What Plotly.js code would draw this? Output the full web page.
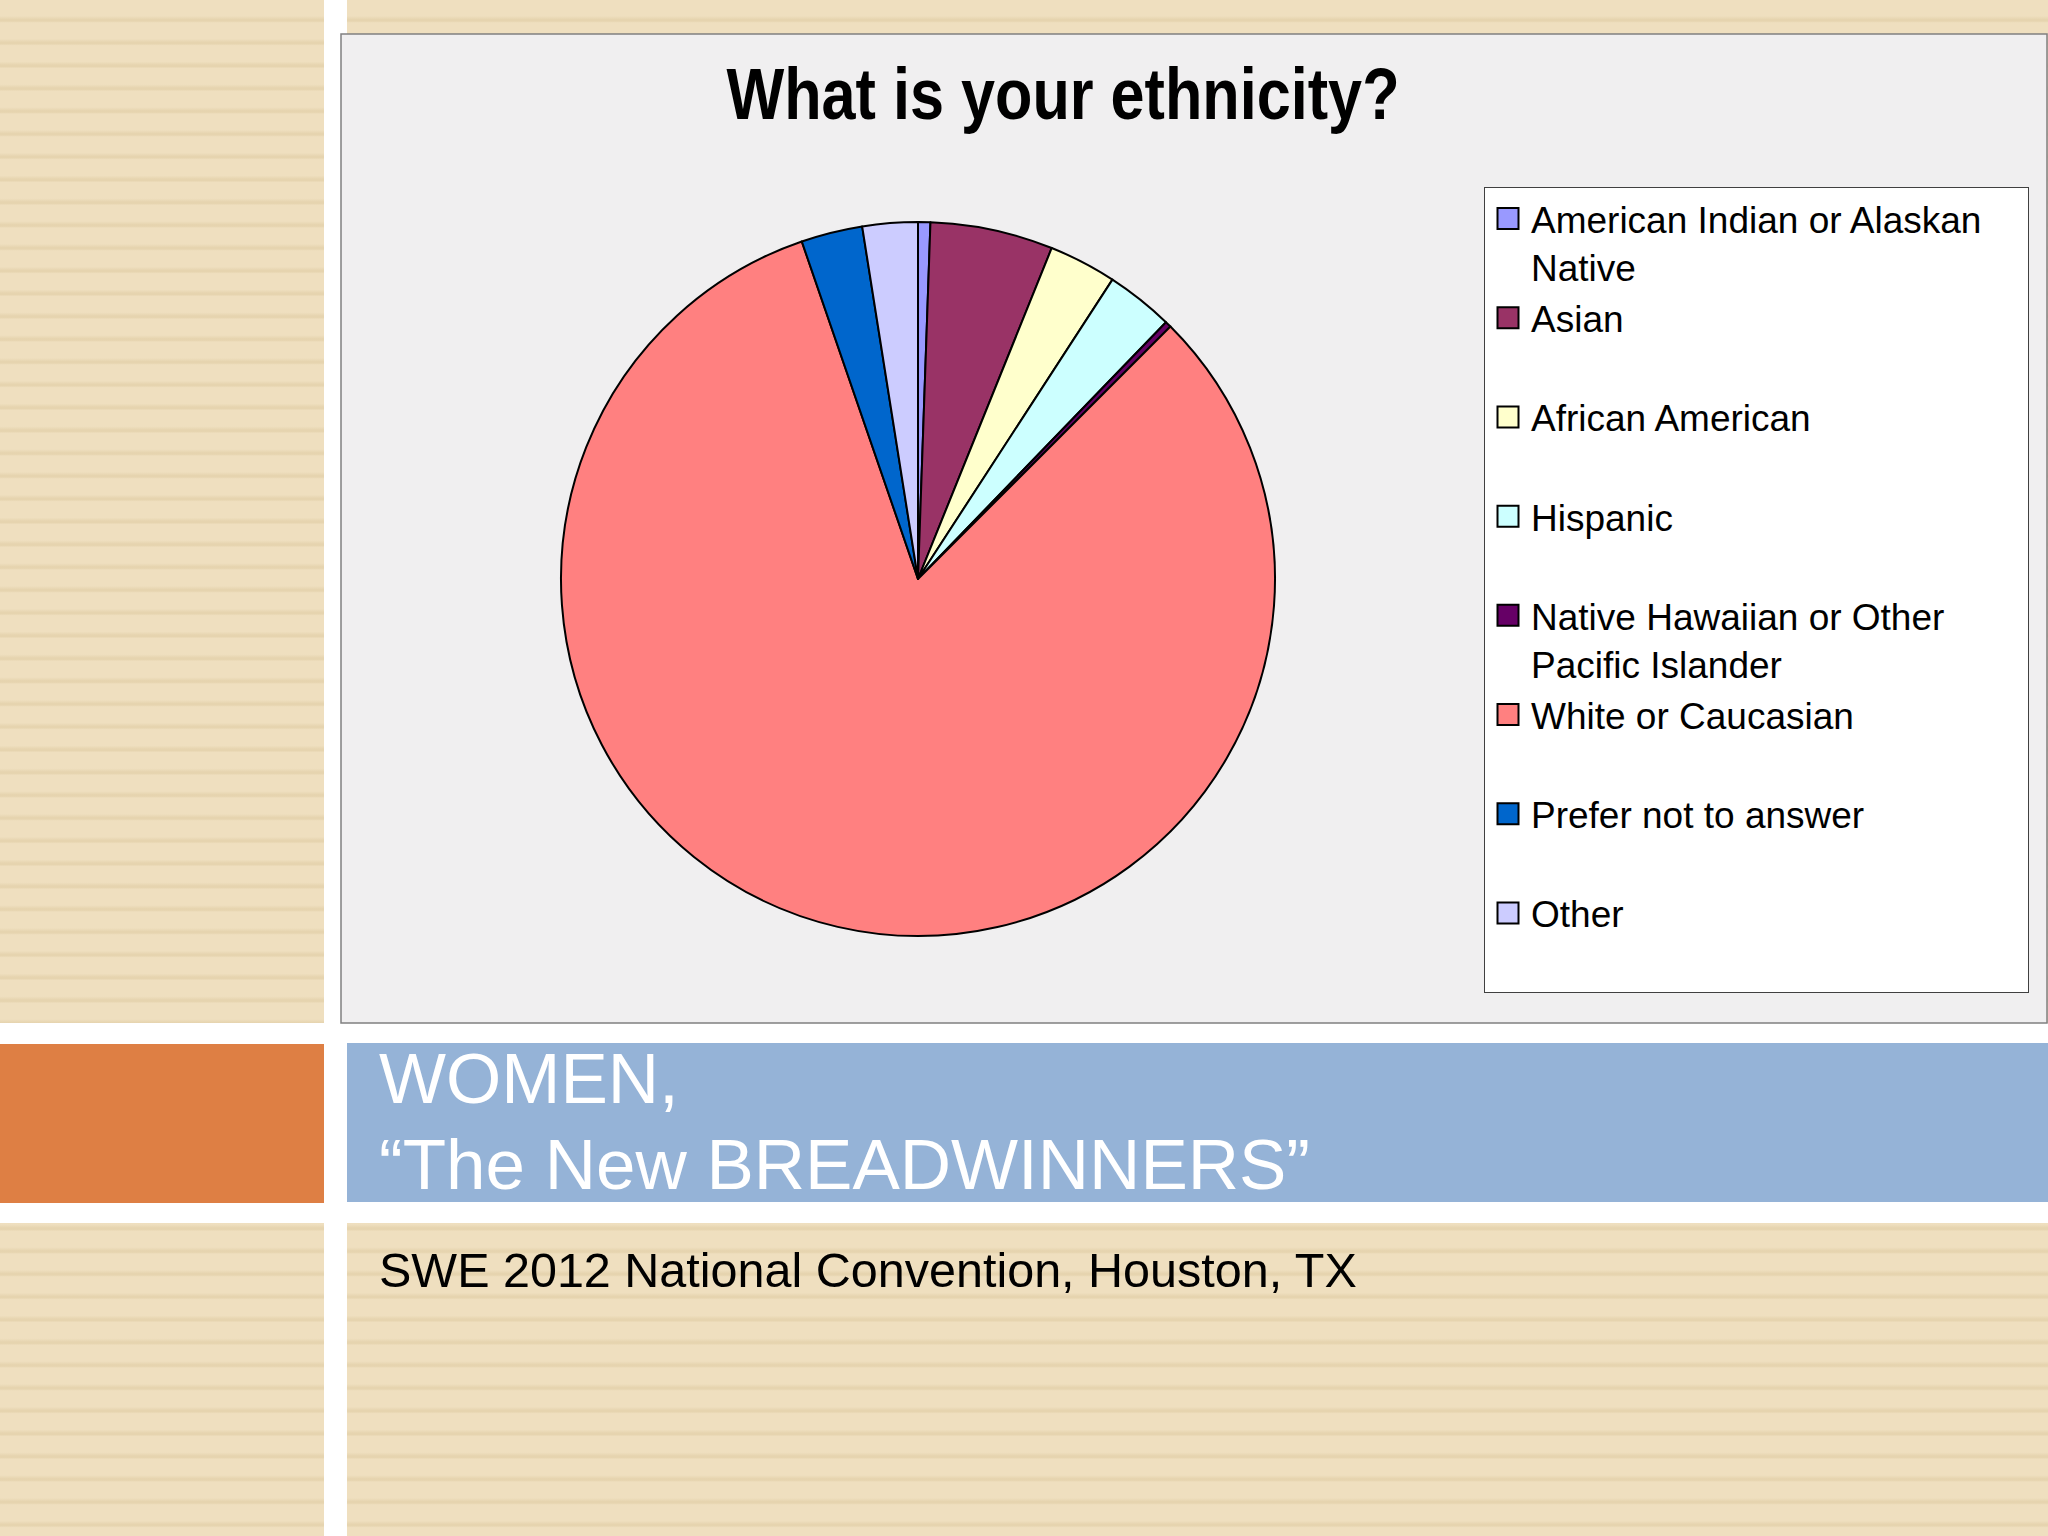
<!DOCTYPE html>
<html>
<head>
<meta charset="utf-8">
<script src="https://cdn.plot.ly/plotly-3.0.1.min.js"></script>
<style>
  html, body { margin: 0; padding: 0; }
  body {
    width: 2048px; height: 1536px; overflow: hidden;
    background-color: #EFDFBF;
    background-image: repeating-linear-gradient(to bottom,
      rgba(0,0,0,0) 0px, rgba(0,0,0,0) 16px,
      #E6D4AF 19.5px, #E6D4AF 21px, rgba(0,0,0,0) 22.8px);
  }
  #chart { width: 2048px; height: 1536px; }
</style>
</head>
<body>
<div id="chart"></div>
<script>
// ---- data ----
const categories = [
  "American Indian or Alaskan Native",
  "Asian",
  "African American",
  "Hispanic",
  "Native Hawaiian or Other Pacific Islander",
  "White or Caucasian",
  "Prefer not to answer",
  "Other"
];
const counts = [2, 20, 11, 11, 1, 296, 10, 9];
const sliceColors = ["#9999FF", "#993366", "#FFFFCC", "#CCFFFF", "#660066", "#FF8080", "#0066CC", "#CCCCFF"];
const chartTitle = "What is your ethnicity?";
const slideTitle1 = "WOMEN,";
const slideTitle2 = "\u201CThe New BREADWINNERS\u201D";
const slideSubtitle = "SWE 2012 National Convention, Houston, TX";

// ---- helpers (pixel -> paper) ----
const W = 2048, H = 1536;
const px = x => x / W;
const py = y => 1 - y / H;

// wrap legend labels to two lines (legend slots are uniform in the original)
function wrapLabel(s, maxLen) {
  if (s.length <= maxLen) return s + "<br>&nbsp;";
  const words = s.split(" ");
  let first = "";
  let i = 0;
  while (i < words.length && (first ? first.length + 1 + words[i].length : words[i].length) <= maxLen) {
    first = first ? first + " " + words[i] : words[i];
    i++;
  }
  // trailing padding widens the legend box to the original's width
  return first + "&nbsp;&nbsp;&nbsp;&nbsp;<br>" + words.slice(i).join(" ");
}
const legendLabels = categories.map(c => wrapLabel(c, 26));

// pie geometry: centre (918,579), radius 357 px
const cx = 918, cy = 579, r = 357;

const trace = {
  type: "pie",
  labels: legendLabels,
  values: counts,
  sort: false,
  direction: "clockwise",
  rotation: 0,
  textinfo: "none",
  hoverinfo: "none",
  marker: { colors: sliceColors, line: { color: "#000000", width: 2 } },
  domain: { x: [px(cx - r), px(cx + r)], y: [py(cy + r), py(cy - r)] }
};

const rect = (x0, y0, x1, y1, fill, line) => ({
  type: "rect", xref: "paper", yref: "paper", layer: "below",
  x0: px(x0), x1: px(x1), y0: py(y1), y1: py(y0),
  fillcolor: fill, line: line || { width: 0 }
});

const layout = {
  width: W, height: H,
  margin: { l: 0, r: 0, t: 0, b: 0, pad: 0 },
  paper_bgcolor: "rgba(0,0,0,0)",
  plot_bgcolor: "rgba(0,0,0,0)",
  showlegend: true,
  title: {
    text: chartTitle,
    font: { family: "Liberation Sans, Arial, sans-serif", size: 72, weight: "bold", color: "#000000" },
    xref: "paper", x: px(1063), xanchor: "center",
    yref: "container", y: py(94), yanchor: "middle"
  },
  legend: {
    x: px(1484), y: py(187), xanchor: "left", yanchor: "top",
    bgcolor: "#FFFFFF", bordercolor: "#404040", borderwidth: 1,
    font: { family: "Liberation Sans, Arial, sans-serif", size: 37, color: "#000000" },
    valign: "top", tracegroupgap: 0, itemwidth: 36
  },
  shapes: [
    rect(324, 0, 347, 1536, "#FFFFFF"),
    rect(0, 1023, 2048, 1223, "#FFFFFF"),
    rect(0, 1044, 324, 1203, "#DE7F44"),
    rect(347, 1043, 2048, 1202, "#95B3D7"),
    rect(341, 34, 2047, 1023, "#F0EFF0", { color: "#808080", width: 1.5 })
  ],
  annotations: [
    { text: slideTitle1, xref: "paper", yref: "paper", x: px(377), y: py(1078), xanchor: "left", yanchor: "middle",
      showarrow: false, font: { family: "Liberation Sans, Arial, sans-serif", size: 71, color: "#FFFFFF" } },
    { text: slideTitle2, xref: "paper", yref: "paper", x: px(377), y: py(1164), xanchor: "left", yanchor: "middle",
      showarrow: false, font: { family: "Liberation Sans, Arial, sans-serif", size: 71, color: "#FFFFFF" } },
    { text: slideSubtitle, xref: "paper", yref: "paper", x: px(377), y: py(1270), xanchor: "left", yanchor: "middle",
      showarrow: false, font: { family: "Liberation Sans, Arial, sans-serif", size: 48.5, color: "#000000" } }
  ]
};

Plotly.newPlot("chart", [trace], layout, { displayModeBar: false, staticPlot: true }).then(gd => {
  // larger legend swatches, as in the original
  gd.querySelectorAll("path.legendpie").forEach(p => p.setAttribute("d", "M10.5,10.5H-10.5V-10.5H10.5Z"));
  // the original title font is condensed: narrow it horizontally about its centre
  const t = gd.querySelector(".gtitle");
  if (t) {
    const x = parseFloat(t.getAttribute("x")) || px(1063) * W;
    const prev = t.getAttribute("transform") || "";
    t.setAttribute("transform", `translate(${x},0) scale(0.85,1) translate(${-x},0) ${prev}`);
  }
});
</script>
</body>
</html>
